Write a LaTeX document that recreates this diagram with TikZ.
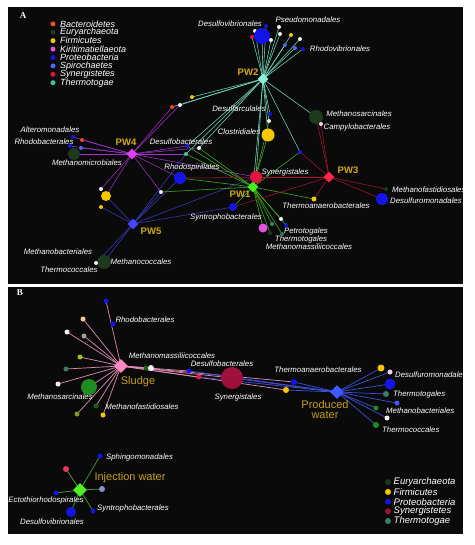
\documentclass[tikz,border=0pt]{standalone}
\usepackage{fontspec}
\setmainfont{Liberation Sans}
\newfontfamily\serifA{Liberation Serif}
\usetikzlibrary{shapes.geometric}
\pgfdeclarelayer{bg}\pgfdeclarelayer{edges}\pgfsetlayers{bg,edges,main}
\definecolor{panel}{HTML}{0A0A0A}
\definecolor{cBact}{HTML}{F04A1E}
\definecolor{cEury}{HTML}{1E3A1E}
\definecolor{cFirm}{HTML}{F5C800}
\definecolor{cKiri}{HTML}{E650E6}
\definecolor{cProt}{HTML}{1414E6}
\definecolor{cSpir}{HTML}{4A64FF}
\definecolor{cSyn}{HTML}{E0143C}
\definecolor{cTherm}{HTML}{3CC896}
\definecolor{cWhite}{HTML}{F0F0F0}
\definecolor{hubTwo}{HTML}{8CF0D8}
\definecolor{hubFour}{HTML}{E040F0}
\definecolor{hubFive}{HTML}{4646FF}
\definecolor{hubOne}{HTML}{46F01E}
\definecolor{hubThree}{HTML}{FF2846}
\definecolor{edTwo}{HTML}{70D8B8}
\definecolor{edFour}{HTML}{A030C8}
\definecolor{edFive}{HTML}{3A3AC0}
\definecolor{edOne}{HTML}{3CB41E}
\definecolor{edThree}{HTML}{A8142D}
\definecolor{hubText}{HTML}{D2AA14}
\definecolor{cSludge}{HTML}{FF88C0}
\definecolor{cProd}{HTML}{3C5AFF}
\definecolor{cInj}{HTML}{50F028}
\definecolor{edSludge}{HTML}{E08CB4}
\definecolor{edProd}{HTML}{3C50DC}
\definecolor{edInj}{HTML}{46A032}
\definecolor{cCrim}{HTML}{A0103C}
\definecolor{cGreenB}{HTML}{1E8C1E}
\definecolor{cPeach}{HTML}{F5C8A0}
\definecolor{cGray}{HTML}{A0A0A0}
\definecolor{cYG}{HTML}{A0C020}
\definecolor{cTealB}{HTML}{3A8060}
\definecolor{cLav}{HTML}{9090C8}
\definecolor{cPinkW}{HTML}{F0D0F0}
\definecolor{cViolet}{HTML}{5050FF}
\definecolor{injText}{HTML}{C8A020}
\begin{document}
\begin{tikzpicture}[x=1pt,y=-1pt,
  nd/.style={circle,inner sep=0pt,minimum size=#1},
  hub/.style={diamond,aspect=1,inner sep=0pt,minimum size=#1},
  lab/.style={font=\fontsize{7.8}{9}\selectfont\itshape,text=white,inner sep=0pt},
  leg/.style={font=\fontsize{9}{10}\selectfont\itshape,text=white,inner sep=0pt,anchor=west},
  hubl/.style={font=\fontsize{9.5}{10}\selectfont\bfseries,text=hubText,inner sep=0pt},
  bigl/.style={font=\fontsize{11}{12}\selectfont,text=injText,inner sep=0pt,align=center},
  eTwo/.style={draw=edTwo,line width=0.55pt},
  eFour/.style={draw=edFour,line width=0.55pt},
  eFive/.style={draw=edFive,line width=0.55pt},
  eOne/.style={draw=edOne,line width=0.55pt},
  eThree/.style={draw=edThree,line width=0.55pt},
  eSl/.style={draw=edSludge,line width=0.7pt},
  ePr/.style={draw=edProd,line width=0.7pt},
  eIn/.style={draw=edInj,line width=0.7pt}]
\useasboundingbox (0,0) rectangle (474,545);
\begin{pgfonlayer}{bg}
\fill[white] (0,0) rectangle (474,545);
\fill[panel] (8,7) rectangle (463,284);
\fill[panel] (8,287) rectangle (463,534);
\end{pgfonlayer}
% ---------------- Panel A ----------------
\node[font=\serifA\bfseries\fontsize{9}{10}\selectfont,text=white] (tA) at (23,16) {A};
% legend A
\foreach \c/\t [count=\i] in {cBact/Bacteroidetes,cEury/Euryarchaeota,cFirm/Firmicutes,cKiri/Kiritimatiellaeota,cProt/Proteobacteria,cSpir/Spirochaetes,cSyn/Synergistetes,cTherm/Thermotogae}{
  \node[nd=5pt,fill=\c] (lgA\i) at (53,{15.5+8.4*\i}) {};
  \node[leg] (lgAt\i) at (60,{15.5+8.4*\i}) {\t};
}
% hubs
\node[hub=11pt,fill=hubTwo] (pw2) at (263,79) {};
\node[hub=11pt,fill=hubFour] (pw4) at (132,154) {};
\node[hub=11pt,fill=hubFive] (pw5) at (133,224) {};
\node[hub=11pt,fill=hubOne] (pw1) at (253,187) {};
\node[hub=11pt,fill=hubThree] (pw3) at (329,177) {};
\node[hubl] (pw2l) at (248,72) {PW2};
\node[hubl] (pw4l) at (126,142) {PW4};
\node[hubl] (pw5l) at (151,231) {PW5};
\node[hubl] (pw1l) at (240,194) {PW1};
\node[hubl] (pw3l) at (348,170) {PW3};
% top cluster
\node[nd=4pt,fill=cSyn] (t1) at (252,37) {};
\node[nd=4pt,fill=cWhite] (t2) at (255,31) {};
\node[nd=16pt,fill=cProt] (t3) at (262,36) {};
\node[nd=4pt,fill=cProt] (t4) at (266,26) {};
\node[nd=4pt,fill=cWhite] (t5) at (271,40) {};
\node[nd=4pt,fill=cWhite] (t6) at (279,27) {};
\node[nd=4pt,fill=cWhite] (t7) at (280,34) {};
\node[nd=4pt,fill=cFirm] (t8) at (291,35) {};
\node[nd=4pt,fill=cWhite] (t9) at (300,39) {};
\node[nd=4pt,fill=cSpir] (t10) at (285,45) {};
\node[nd=4pt,fill=cSpir] (t11) at (295,48) {};
\node[nd=4pt,fill=cProt] (t12) at (303,49) {};
% left of PW2
\node[nd=4pt,fill=cFirm] (l1) at (192,97) {};
\node[nd=4pt,fill=cWhite] (l2) at (180,105) {};
\node[nd=4pt,fill=cBact] (l3) at (172,107) {};
% below PW2
\node[nd=4pt,fill=cProt] (d1) at (270,114) {};
\node[nd=4pt,fill=cWhite] (d2) at (269,121) {};
\node[nd=13pt,fill=cFirm] (d3) at (268,135) {};
\node[nd=14pt,fill=cEury] (m1) at (316,117) {};
\node[nd=4pt,fill=cPinkW] (m2) at (321,124) {};
% Desulfobacterales
\node[nd=4pt,fill=cProt] (b1) at (187,146) {};
\node[nd=4pt,fill=cWhite] (b2) at (199,148) {};
\node[nd=4pt,fill=cTherm] (b3) at (186,154) {};
\node[nd=12pt,fill=cProt] (r1) at (180,178) {};
\node[nd=4pt,fill=cWhite] (w1) at (161,192) {};
\node[nd=12pt,fill=cSyn] (s1) at (256,177) {};
\node[nd=4pt,fill=cProt] (p1) at (300,152) {};
\node[nd=5pt,fill=cFirm] (y1) at (314,199) {};
\node[nd=8pt,fill=cProt] (sy) at (233,207) {};
% bottom cluster
\node[nd=4pt,fill=cWhite] (c1) at (281,219) {};
\node[nd=4pt,fill=cProt] (c2) at (286,225) {};
\node[nd=4pt,fill=cTherm!70!black] (c3) at (272,224) {};
\node[nd=9pt,fill=cKiri] (c4) at (263,228) {};
\node[nd=4pt,fill=cTherm!60!black] (c5) at (282,234) {};
\node[nd=4pt,fill=cEury] (c6) at (270,233) {};
% right
\node[nd=4pt,fill=cEury] (mf) at (386,189) {};
\node[nd=12pt,fill=cProt] (df) at (382,199) {};
% left cluster
\node[nd=4pt,fill=cProt] (a1) at (73,137) {};
\node[nd=4pt,fill=cBact] (a2) at (82,140) {};
\node[nd=4pt,fill=cProt] (a3) at (70,146) {};
\node[nd=4pt,fill=cSpir] (a4) at (81,148) {};
\node[nd=12pt,fill=cEury] (a5) at (74,154) {};
\node[nd=4pt,fill=cWhite] (y2) at (101,189) {};
\node[nd=10pt,fill=cFirm] (y3) at (106,196) {};
\node[nd=4pt,fill=cFirm] (y4) at (101,207) {};
\node[nd=14pt,fill=cEury] (mc) at (104,262) {};
\node[nd=4pt,fill=cWhite] (mw) at (96,263) {};
% labels A
\node[lab] (L1) at (230,24) {Desulfovibrionales};
\node[lab] (L2) at (308,20) {Pseudomonadales};
\node[lab] (L3) at (340,49) {Rhodovibrionales};
\node[lab] (L4) at (239,109) {Desulfarculales};
\node[lab] (L5) at (239,132) {Clostridiales};
\node[lab] (L6) at (359,114) {Methanosarcinales};
\node[lab] (L7) at (357,127) {Campylobacterales};
\node[lab] (L8) at (50,130) {Alteromonadales};
\node[lab] (L9) at (44,142) {Rhodobacterales};
\node[lab] (L10) at (181,142) {Desulfobacterales};
\node[lab] (L11) at (87,163) {Methanomicrobiales};
\node[lab] (L12) at (192,167) {Rhodospirillales};
\node[lab] (L13) at (285,172) {Synergistales};
\node[lab] (L14) at (326,206) {Thermoanaerobacterales};
\node[lab] (L15) at (226,217) {Syntrophobacterales};
\node[lab] (L16) at (306,231) {Petrotogales};
\node[lab] (L17) at (301,239) {Thermotogales};
\node[lab] (L18) at (309,247) {Methanomassiliicoccales};
\node[lab,anchor=west] (L19) at (392,190) {Methanofastidiosales};
\node[lab,anchor=west] (L20) at (390,201) {Desulfuromonadales};
\node[lab] (L21) at (58,252) {Methanobacteriales};
\node[lab] (L22) at (141,262) {Methanococcales};
\node[lab] (L23) at (69,270) {Thermococcales};
% ---------------- Panel B ----------------
\node[font=\serifA\bfseries\fontsize{9}{10}\selectfont,text=white] (tB) at (20,293) {B};
\node[hub=14pt,fill=cSludge] (sl) at (121,366) {};
\node[hub=14pt,fill=cProd] (pr) at (337,392) {};
\node[hub=14pt,fill=cInj] (ij) at (80,490) {};
\node[bigl] (sll) at (138,382) {Sludge};
\node[bigl] (prl) at (325,410) {Produced\\[-2pt]water};
\node[bigl] (ijl) at (130,478) {Injection water};
% sludge cluster
\node[nd=5pt,fill=cProt] (q1) at (106,301) {};
\node[nd=5pt,fill=cProt] (q2) at (113,324) {};
\node[nd=5pt,fill=cPeach] (q3) at (83,319) {};
\node[nd=5pt,fill=cWhite] (q4) at (67,332) {};
\node[nd=5pt,fill=cGray] (q5) at (84,336) {};
\node[nd=5pt,fill=cYG] (q6) at (80,357) {};
\node[nd=5pt,fill=cTealB] (q7) at (66,369) {};
\node[nd=5pt,fill=cWhite] (q8) at (58,384) {};
\node[nd=16pt,fill=cGreenB] (q9) at (89,387) {};
\node[nd=5pt,fill=cGreenB!70!black] (q10) at (96,406) {};
\node[nd=5pt,fill=cYG!80!black] (q11) at (77,414) {};
\node[nd=5pt,fill=cFirm] (q12) at (103,415) {};
% middle
\node[nd=5pt,fill=cGreenB!70!black] (k1) at (146,368) {};
\node[nd=6pt,fill=cWhite] (k2) at (151,368) {};
\node[nd=5pt,fill=cProt] (k3) at (189,371) {};
\node[nd=5pt,fill=cSyn] (k4) at (199,377) {};
\node[nd=22pt,fill=cCrim] (k5) at (232,378) {};
\node[nd=6pt,fill=cProt] (k6) at (294,382) {};
\node[nd=6pt,fill=cFirm] (k7) at (286,390) {};
% produced cluster
\node[nd=7pt,fill=cFirm] (u1) at (381,368) {};
\node[nd=5pt,fill=cPinkW] (u2) at (390,372) {};
\node[nd=11pt,fill=cProt] (u3) at (390,384) {};
\node[nd=6pt,fill=cTealB] (u4) at (386,394) {};
\node[nd=5pt,fill=cViolet] (u5) at (397,403) {};
\node[nd=5pt,fill=cGreenB] (u6) at (376,408) {};
\node[nd=5pt,fill=cWhite] (u7) at (387,418) {};
\node[nd=6pt,fill=cGreenB] (u8) at (376,425) {};
% injection cluster
\node[nd=5pt,fill=cProt] (j1) at (100,456) {};
\node[nd=6pt,fill=cSyn!85!white] (j2) at (66,469) {};
\node[nd=5pt,fill=cProt] (j3) at (56,493) {};
\node[nd=6pt,fill=cLav] (j4) at (102,489) {};
\node[nd=5pt,fill=cProt] (j5) at (93,511) {};
\node[nd=10pt,fill=cProt] (j6) at (71,512) {};
% labels B
\node[lab] (M1) at (145,320) {Rhodobacterales};
\node[lab] (M2) at (172,356) {Methanomassiliicoccales};
\node[lab] (M3) at (222,364) {Desulfobacterales};
\node[lab] (M4) at (60,397) {Methanosarcinales};
\node[lab] (M5) at (142,407) {Methanofastidiosales};
\node[lab] (M6) at (238,397) {Synergistales};
\node[lab] (M7) at (318,370) {Thermoanaerobacterales};
\node[lab,anchor=west] (M8) at (395,375) {Desulfuromonadales};
\node[lab,anchor=west] (M9) at (393,394) {Thermotogales};
\node[lab,anchor=west] (M10) at (386,411) {Methanobacteriales};
\node[lab,anchor=west] (M11) at (382,430) {Thermococcales};
\node[lab,anchor=west] (M12) at (106,457) {Sphingomonadales};
\node[lab] (M13) at (46,500) {Ectothiorhodospirales};
\node[lab,anchor=west] (M14) at (97,508) {Syntrophobacterales};
\node[lab] (M15) at (52,522) {Desulfovibrionales};
% legend B
\foreach \c/\t [count=\i] in {cEury/Euryarchaeota,cFirm/Firmicutes,cProt/Proteobacteria,cCrim/Synergistetes,cTealB/Thermotogae}{
  \node[nd=6pt,fill=\c] (lgB\i) at (388,{472.5+9.7*\i}) {};
  \node[leg,font=\fontsize{9.5}{10}\selectfont\itshape] (lgBt\i) at (393.5,{472.5+9.7*\i}) {\t};
}
% ---------------- edges ----------------
\begin{pgfonlayer}{edges}
\foreach \n in {t1,t2,t3,t4,t5,t6,t7,t8,t9,t10,t11,t12,l1,l2,l3,d1,d2,d3,m1,p1,s1,b1,b2,b3,pw1}
  {\draw[eTwo] (pw2.center) -- (\n.center);}
\foreach \n in {a1,a2,a3,a4,a5,l2,l3,y2,y3,b1,b2,b3,r1,s1,w1}
  {\draw[eFour] (pw4.center) -- (\n.center);}
\foreach \n in {mc,mw,y3,y4,r1,w1,sy,s1,b3}
  {\draw[eFive] (pw5.center) -- (\n.center);}
\foreach \n in {d2,d3,s1,r1,b1,b2,b3,w1,p1,y1,sy,c1,c2,c3,c4,c5,c6}
  {\draw[eOne] (pw1.center) -- (\n.center);}
\foreach \n in {m1,m2,p1,s1,y1,mf,df,r1,sy}
  {\draw[eThree] (pw3.center) -- (\n.center);}
\foreach \n in {q1,q3,q4,q5,q6,q7,q8,q9,q10,q11,q12,k1,k2,k3,k4,k5,k6,k7}
  {\draw[eSl] (sl.center) -- (\n.center);}
\foreach \n in {k3,k4,k5,k6,k7,u1,u2,u3,u4,u5,u6,u7,u8}
  {\draw[ePr] (pr.center) -- (\n.center);}
\foreach \n in {j1,j2,j3,j4,j5,j6}
  {\draw[eIn] (ij.center) -- (\n.center);}
\end{pgfonlayer}
\end{tikzpicture}
\end{document}
